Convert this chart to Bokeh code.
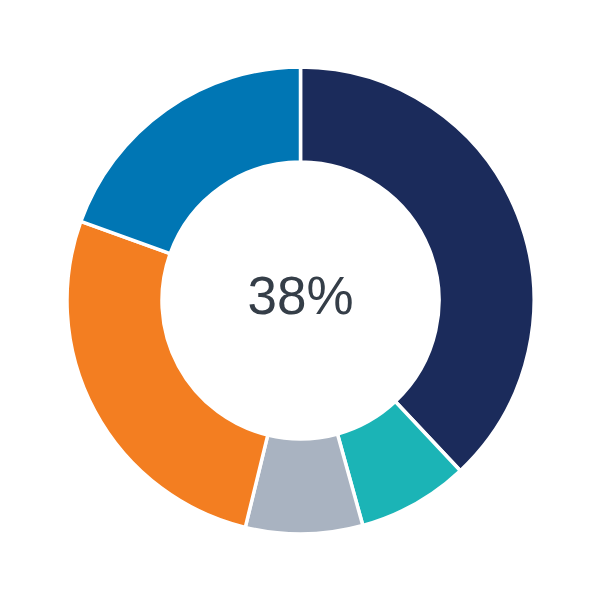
import math
from bokeh.plotting import figure
from bokeh.models import ColumnDataSource, Range1d
from bokeh.core.properties import value
from bokeh.embed import file_html
from bokeh.resources import INLINE

# Data (clockwise from 12 o'clock)
categories = ["A", "B", "C", "D", "E"]
shares = [38.0, 7.7, 8.1, 26.7, 19.5]
colors = ["#1b2b5b", "#1bb4b6", "#a9b3c1", "#f37e21", "#0076b4"]
center_label = "38%"

total = sum(shares)
starts, ends = [], []
cum = 0.0
for s in shares:
    starts.append(math.pi / 2 - 2 * math.pi * cum / total)
    cum += s
    ends.append(math.pi / 2 - 2 * math.pi * cum / total)

src = ColumnDataSource(dict(cat=categories, val=shares, color=colors,
                            start=starts, end=ends))

W = 584
p = figure(width=W, height=W, output_backend="svg", toolbar_location=None,
           x_range=Range1d(-300, W - 300), y_range=Range1d(-(W - 300), 300),
           min_border=0)
p.axis.visible = False
p.grid.visible = False
p.outline_line_color = None
p.background_fill_color = "white"
p.border_fill_color = "white"

p.annular_wedge(x=0, y=0, inner_radius=138.5, outer_radius=233.5,
                start_angle="start", end_angle="end", direction="clock",
                fill_color="color", line_color="white", line_width=3.5,
                source=src)

p.text(x=[0], y=[5], text=[center_label], text_align="center",
       text_baseline="middle", text_font=value("Liberation Sans"),
       text_font_size="53px", text_color="#353e48")

open("out.html", "w").write(file_html(p, INLINE))
